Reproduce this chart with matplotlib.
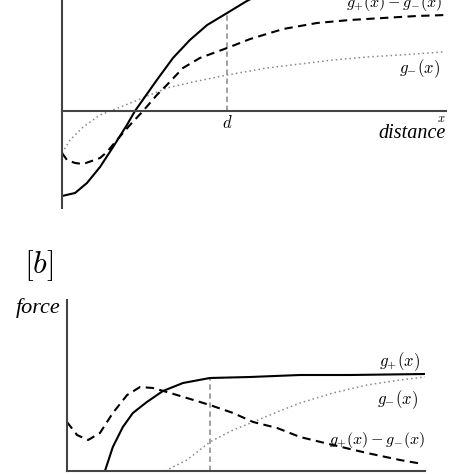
import matplotlib
matplotlib.use("Agg")
import matplotlib.pyplot as plt

plt.rcParams['mathtext.fontset'] = 'cm'

# panel [a] (top, cropped)
a_plus_x = [0, 0.34, 0.65, 0.99, 1.33, 1.69, 1.9, 2.47, 2.89, 3.33, 3.78, 4.30, 4.77, 5.2]
a_plus_y = [-4.25, -4.1, -3.6, -2.8, -1.8, -0.7, 0, 1.55, 2.65, 3.55, 4.3, 4.9, 5.45, 5.9]
a_diff_x = [0, 0.13, 0.34, 0.55, 0.99, 1.17, 1.43, 1.77, 2.11, 2.47, 2.73, 3.15, 3.59,
            4.30, 4.9, 5.76, 6.64, 7.5, 8.36, 9.24, 10]
a_diff_y = [-2.1, -2.45, -2.6, -2.65, -2.35, -2.05, -1.45, -0.7, 0, 0.8, 1.3, 2.15, 2.65,
            3.15, 3.6, 4.1, 4.4, 4.55, 4.65, 4.75, 4.8]
a_minus_x = [0, 0.21, 0.55, 0.99, 1.33, 1.85, 2.29, 2.73, 3.41, 4.30, 5.34, 6.2, 7.06, 7.94, 8.8, 9.92]
a_minus_y = [-2.1, -1.45, -0.8, -0.2, 0.05, 0.45, 0.8, 1.15, 1.45, 1.8, 2.15, 2.35, 2.55, 2.7, 2.8, 2.95]
a_d = 4.30
a_d_top = 4.9

# panel [b] (bottom)
b_plus_x = [1.06, 1.28, 1.56, 1.84, 2.23, 2.68, 3.24, 3.99, 5.11, 6.51, 7.91, 10]
b_plus_y = [0, 1.2, 2.2, 2.9, 3.45, 4.0, 4.4, 4.65, 4.7, 4.8, 4.8, 4.85]
b_diff_x = [0, 0.28, 0.59, 0.92, 1.28, 1.68, 2.04, 2.40, 2.79, 3.35, 3.99, 4.64, 5.2,
            5.87, 6.51, 7.43, 8.38, 9.3, 9.94]
b_diff_y = [2.45, 1.8, 1.55, 1.9, 2.9, 3.8, 4.2, 4.15, 3.95, 3.65, 3.3, 2.9, 2.45,
            2.15, 1.7, 1.3, 0.9, 0.55, 0.35]
b_minus_x = [2.74, 3.35, 3.99, 4.64, 5.2, 5.87, 6.51, 7.43, 8.38, 9.3, 10]
b_minus_y = [0, 0.55, 1.45, 2.05, 2.45, 2.95, 3.4, 3.9, 4.3, 4.55, 4.7]
b_d = 3.99
b_d_top = 4.65

W = 474.0
fig = plt.figure(figsize=(4.74, 4.74), dpi=100)

axis_col = '#444444'


def style_axes(ax):
    for s in ['top', 'right']:
        ax.spines[s].set_visible(False)
    ax.spines['left'].set_position(('data', 0))
    ax.spines['bottom'].set_position(('data', 0))
    for s in ['left', 'bottom']:
        ax.spines[s].set_color(axis_col)
        ax.spines[s].set_linewidth(1.5)
    ax.set_xticks([])
    ax.set_yticks([])
    ax.patch.set_alpha(0)


def draw_curves(ax, px, py, dx, dy, mx, my, d, dtop):
    ax.plot([d, d], [0, dtop], color='#999999', lw=1.3, dashes=(3, 2))
    ax.plot(mx, my, color='#888888', lw=1.1, linestyle=(0, (1, 2)))
    ax.plot(dx, dy, color='black', lw=1.5, dashes=(4, 2.6))
    ax.plot(px, py, color='black', lw=1.5)


# top panel: x-axis at py=111, y-axis at px=62
ax1 = fig.add_axes([62 / W, (W - 208) / W, 384 / W, 228 / W])
ax1.set_xlim(0, 10)
ax1.set_ylim(-4.85, 6.55)
style_axes(ax1)
draw_curves(ax1, a_plus_x, a_plus_y, a_diff_x, a_diff_y, a_minus_x, a_minus_y, a_d, a_d_top)
ax1.text(9.9, 5.4, r'$g_{+}(x)-g_{-}(x)$', ha='right', va='center', fontsize=11.5)
ax1.text(9.84, 2.1, r'$g_{-}(x)$', ha='right', va='center', fontsize=12)
ax1.text(a_d, -0.6, r'$d$', ha='center', va='center', fontsize=12)
ax1.text(10, -0.38, r'$x$', ha='right', va='center', fontsize=9)
ax1.text(10, -1.12, 'distance', ha='right', va='center', fontsize=14.5,
         family='Liberation Serif', style='italic')

# bottom panel: x-axis at py=471, y-axis at px=67
ax2 = fig.add_axes([67 / W, (W - 471) / W, 358 / W, 171 / W])
ax2.set_xlim(0, 10)
ax2.set_ylim(0, 8.55)
style_axes(ax2)
draw_curves(ax2, b_plus_x, b_plus_y, b_diff_x, b_diff_y, b_minus_x, b_minus_y, b_d, b_d_top)
ax2.text(9.86, 5.45, r'$g_{+}(x)$', ha='right', va='center', fontsize=12)
ax2.text(9.8, 3.55, r'$g_{-}(x)$', ha='right', va='center', fontsize=12)
ax2.text(10, 1.55, r'$g_{+}(x)-g_{-}(x)$', ha='right', va='center', fontsize=11.5)

fig.text(60 / W, 1 - 308 / W, 'force', ha='right', va='center', fontsize=16,
         family='Liberation Serif', style='italic')
fig.text(24 / W, 1 - 266 / W, r'$[b]$', ha='left', va='center', fontsize=23)

fig.savefig('out.png', dpi=100)
